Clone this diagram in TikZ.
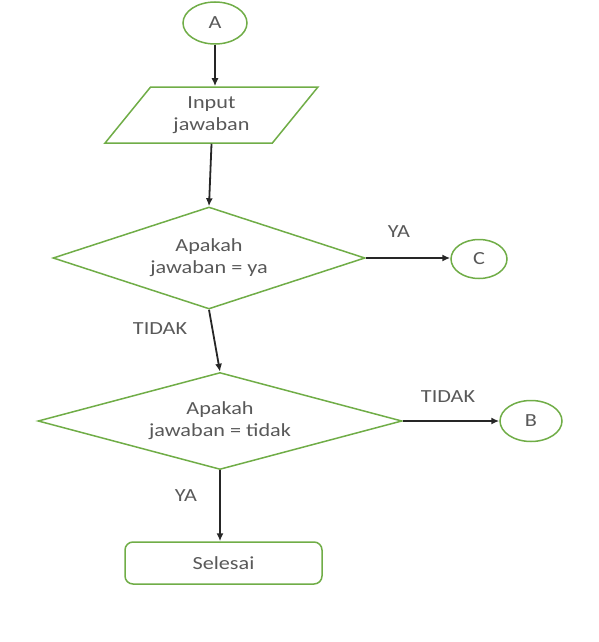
\documentclass[tikz,border=0pt]{standalone}
\usepackage{fontspec}
\setmainfont[FakeStretch=1.2]{Carlito}
\usetikzlibrary{shapes.geometric,arrows.meta}
\definecolor{ogreen}{HTML}{70AD47}
\definecolor{txtgray}{HTML}{595959}
\definecolor{arrgray}{HTML}{262626}
\tikzset{
  shapebox/.style={draw=ogreen, line width=1.5pt, fill=white, text=txtgray, inner sep=0pt, align=center,
    font=\fontsize{18.5}{22}\selectfont},
  conn/.style={circle, ellipse, shapebox},
  decbox/.style={diamond, shapebox},
  flowarrow/.style={draw=arrgray, line width=1.8pt, -{Latex[length=8pt,width=7pt]}},
  lbl/.style={text=txtgray, font=\fontsize{18.5}{22}\selectfont, inner sep=0pt}
}
\begin{document}
\begin{tikzpicture}[x=1pt,y=-1pt]
\useasboundingbox (0,0) rectangle (598,642);
\node[conn, minimum width=64pt, minimum height=42pt] (A) at (215,23) {A};
\node[trapezium, trapezium left angle=52.5, trapezium right angle=127.5, trapezium stretches=true,
      shapebox, minimum width=213pt, minimum height=56pt] (inp) at (211.5,115) {Input\\jawaban};
\node[decbox, minimum width=312pt, minimum height=102pt, aspect=3.06] (d1) at (209,258) {Apakah\\jawaban = ya};
\node[conn, minimum width=56pt, minimum height=39pt] (C) at (479,259) {C};
\node[decbox, minimum width=364pt, minimum height=97pt, aspect=3.75] (d2) at (220,421) {Apakah\\jawaban = tidak};
\node[conn, minimum width=62pt, minimum height=41pt] (B) at (531,421) {B};
\node[shapebox, rectangle, rounded corners=8pt, minimum width=197pt, minimum height=42pt] (sel) at (223.5,563) {Selesai};

\node[lbl] (ya1) at (399,232) {YA};
\node[lbl] (tidak1) at (160,329) {TIDAK};
\node[lbl] (tidak2) at (448,397) {TIDAK};
\node[lbl] (ya2) at (186,496) {YA};

\draw[flowarrow] (A.south) -- (A.south |- inp.north);
\draw[flowarrow] (inp.south) -- (d1.north);
\draw[flowarrow] (d1.east) -- (d1.east -| C.west);
\draw[flowarrow] (d1.south) -- (d2.north);
\draw[flowarrow] (d2.east) -- (d2.east -| B.west);
\draw[flowarrow] (d2.south) -- (d2.south |- sel.north);
\end{tikzpicture}
\end{document}
